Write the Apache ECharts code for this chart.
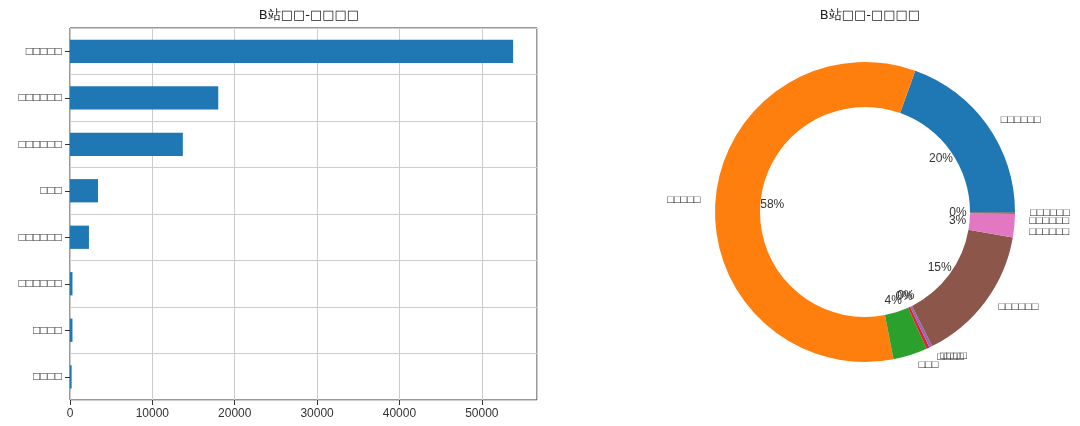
<!DOCTYPE html>
<html><head><meta charset="utf-8">
<script src="https://cdn.jsdelivr.net/npm/echarts@6/dist/echarts.min.js"></script>
<style>html,body{margin:0;background:#fff}#c{width:1080px;height:426px}</style>
</head><body><div id="c"></div>
<script>
// Labels in the source rendered as missing-glyph boxes; reproduced as □
const barCategories = ['□□□□□','□□□□□□','□□□□□□','□□□','□□□□□□','□□□□□□','□□□□','□□□□'];
const barValues = [53800, 18000, 13700, 3400, 2300, 300, 300, 200];
const pieNames = ['□□□□□□','□□□□□','□□□','□□□□','□□□□','□□□□□□','□□□□□□\n□□□□□□','□□□□□□'];
const pieValues = [18000, 53800, 3400, 300, 300, 13700, 2300, 200];
const pieColors = ['#1f77b4','#ff7f0e','#2ca02c','#d62728','#9467bd','#8c564b','#e377c2','#7f7f7f'];

const chart = echarts.init(document.getElementById('c'));
const total = pieValues.reduce((a,b)=>a+b,0);
chart.setOption({
  animation:false,
  title:[
    {text:'B站□□-□□□□',left:304,top:4,textAlign:'center',textStyle:{fontSize:13,fontWeight:'normal',color:'#222',fontFamily:'DejaVu Sans'}},
    {text:'B站□□-□□□□',left:865,top:4,textAlign:'center',textStyle:{fontSize:13,fontWeight:'normal',color:'#222',fontFamily:'DejaVu Sans'}}
  ],
  grid:{left:70,top:28,width:467,height:372,show:true,borderColor:'#333',borderWidth:1},
  xAxis:{type:'value',min:0,max:56700,interval:10000,
    axisLine:{show:false},axisTick:{show:true,lineStyle:{color:'#333'}},
    axisLabel:{color:'#333',fontSize:12,showMaxLabel:false,formatter:v=>String(v)},
    splitLine:{lineStyle:{color:'#ccc'}}},
  yAxis:{type:'category',inverse:true,data:barCategories,
    axisLine:{show:false},axisTick:{show:true,alignWithLabel:true,lineStyle:{color:'#333'}},
    axisLabel:{color:'#333',fontSize:12},
    splitLine:{show:true,lineStyle:{color:'#ccc'}}},
  series:[
    {type:'bar',data:barValues,barWidth:'50%',itemStyle:{color:'#1f77b4'},silent:true},
    {type:'pie',center:[865,212],radius:[105,150],startAngle:0,clockwise:false,minShowLabelAngle:0,
      data:pieNames.map((n,i)=>({name:n,value:pieValues[i],itemStyle:{color:pieColors[i]}})),
      label:{show:true,position:'outside',color:'#222',fontSize:11,formatter:'{b}'},
      labelLayout:{hideOverlap:false},
      labelLine:{show:false,length:10,length2:0},silent:true,avoidLabelOverlap:false},
    {type:'pie',center:[865,212],radius:[60,120],startAngle:0,clockwise:false,minShowLabelAngle:0,
      data:pieNames.map((n,i)=>({name:n,value:pieValues[i]})),
      itemStyle:{color:'rgba(0,0,0,0)'},
      label:{show:true,position:'inside',color:'#333',fontSize:12,
        formatter:p=>Math.round(p.value/total*100)+'%'},
      labelLayout:{hideOverlap:false},
      silent:true,avoidLabelOverlap:false}
  ]
});
</script></body></html>
